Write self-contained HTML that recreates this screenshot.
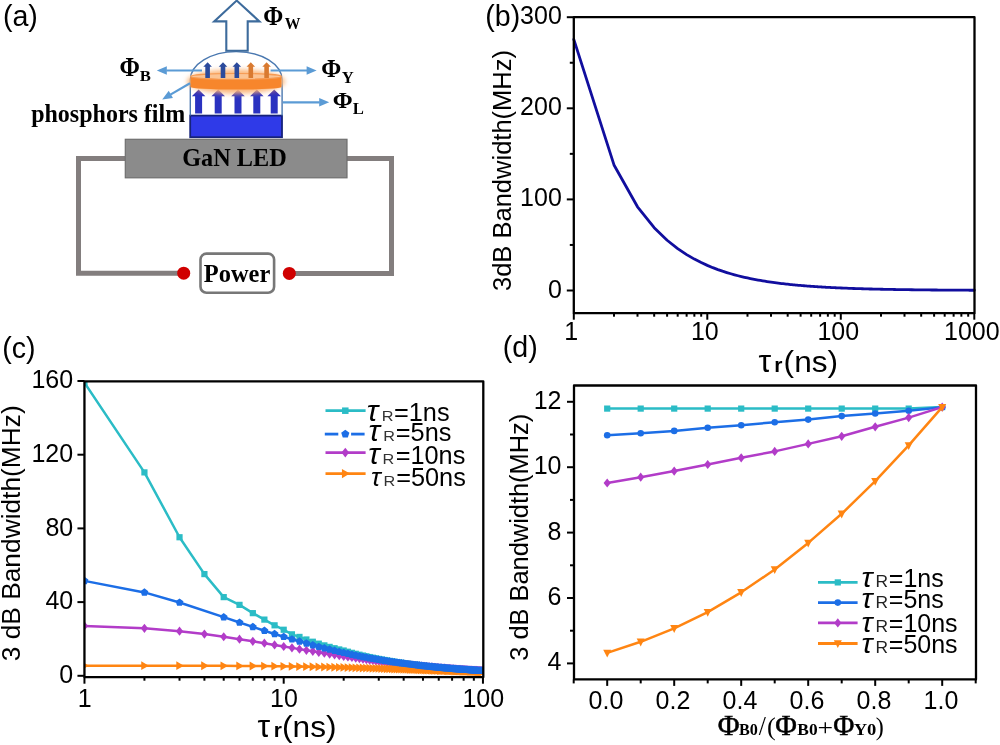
<!DOCTYPE html><html><head><meta charset="utf-8"><title>Figure</title><style>html,body{margin:0;padding:0;background:#fff;overflow:hidden}svg{display:block}</style></head><body>
<svg width="1000" height="745" viewBox="0 0 1000 745">
<rect width="1000" height="745" fill="#fff"/>
<text x="2.90" y="25.50" font-family="'Liberation Sans', Arial, sans-serif" font-size="28.6" font-weight="normal" text-anchor="start" fill="#000" >(a)</text>
<text x="485.30" y="25.90" font-family="'Liberation Sans', Arial, sans-serif" font-size="28.6" font-weight="normal" text-anchor="start" fill="#000" >(b)</text>
<text x="2.30" y="357.70" font-family="'Liberation Sans', Arial, sans-serif" font-size="28.6" font-weight="normal" text-anchor="start" fill="#000" >(c)</text>
<text x="502.80" y="356.60" font-family="'Liberation Sans', Arial, sans-serif" font-size="28.6" font-weight="normal" text-anchor="start" fill="#000" >(d)</text>
<polyline points="573.80,39.37 613.99,164.94 637.50,206.79 654.18,227.72 667.11,240.27 677.68,248.65 686.62,254.62 694.36,259.11 701.19,262.60 707.30,265.39 712.83,267.67 717.87,269.57 722.51,271.18 726.81,272.56 730.81,273.76 734.55,274.80 738.06,275.73 741.38,276.55 744.51,277.28 747.49,277.94 750.32,278.54 753.01,279.09 755.59,279.58 758.06,280.04 760.42,280.45 762.70,280.84 764.89,281.20 767.00,281.53 769.03,281.84 771.00,282.13 772.90,282.40 774.74,282.65 776.52,282.89 778.25,283.11 779.93,283.32 781.57,283.52 783.15,283.71 784.70,283.89 786.21,284.06 787.68,284.22 789.11,284.37 790.50,284.52 791.87,284.66 793.20,284.79 794.50,284.92 795.78,285.04 797.03,285.16 798.25,285.27 799.44,285.37 800.61,285.48 801.76,285.58 802.89,285.67 803.99,285.76 805.07,285.85 806.14,285.93 807.18,286.02 808.21,286.09 809.22,286.17 810.21,286.24 811.18,286.31 812.14,286.38 813.08,286.45 814.01,286.51 814.93,286.58 815.82,286.64 816.71,286.70 817.58,286.75 818.44,286.81 819.29,286.86 820.12,286.91 820.94,286.96 821.75,287.01 822.55,287.06 823.34,287.11 824.12,287.15 824.89,287.20 825.65,287.24 826.39,287.28 827.13,287.32 827.86,287.36 828.58,287.40 829.29,287.44 830.00,287.47 830.69,287.51 831.38,287.55 832.06,287.58 832.73,287.61 833.39,287.65 834.04,287.68 834.69,287.71 835.33,287.74 835.97,287.77 836.59,287.80 837.21,287.83 837.83,287.86 838.43,287.88 839.03,287.91 839.63,287.94 840.22,287.96 840.80,287.99 843.63,288.11 846.33,288.22 848.90,288.32 851.37,288.41 853.74,288.49 856.01,288.57 858.20,288.64 860.31,288.71 862.34,288.77 864.31,288.83 866.21,288.88 868.05,288.93 869.83,288.98 871.56,289.02 873.25,289.06 874.88,289.10 876.47,289.14 878.01,289.18 879.52,289.21 880.99,289.24 882.42,289.27 883.82,289.30 885.18,289.33 886.51,289.36 887.82,289.38 889.09,289.41 890.34,289.43 891.56,289.45 892.75,289.47 893.92,289.50 895.07,289.52 896.20,289.53 897.30,289.55 898.39,289.57 899.45,289.59 900.50,289.60 901.52,289.62 902.53,289.63 903.52,289.65 904.50,289.66 908.24,289.72 911.75,289.76 915.07,289.80 918.20,289.84 921.18,289.87 924.00,289.90 926.70,289.93 929.28,289.95 931.75,289.98 934.11,290.00 936.39,290.02 938.57,290.03 940.68,290.05 942.72,290.07 944.68,290.08 946.58,290.09 948.43,290.11 950.21,290.12 951.94,290.13 953.62,290.14 955.25,290.15 956.84,290.16 958.39,290.17 959.89,290.18 961.36,290.19 962.79,290.19 964.19,290.20 965.56,290.21 966.89,290.21 968.19,290.22 969.47,290.23 970.71,290.23 971.93,290.24 973.13,290.24 974.30,290.25" fill="none" stroke="#110e9e" stroke-width="2.8" stroke-linejoin="round" stroke-linecap="round"/>
<rect x="573.8" y="17.2" width="400.70000000000005" height="296.0" fill="none" stroke="#000" stroke-width="2.3" stroke-linejoin="round"/>
<line x1="566.80" y1="290.50" x2="573.80" y2="290.50" stroke="#000" stroke-width="2" />
<text x="561.80" y="297.50" font-family="'Liberation Sans', Arial, sans-serif" font-size="25" font-weight="normal" text-anchor="end" fill="#000" >0</text>
<line x1="566.80" y1="199.40" x2="573.80" y2="199.40" stroke="#000" stroke-width="2" />
<text x="561.80" y="206.40" font-family="'Liberation Sans', Arial, sans-serif" font-size="25" font-weight="normal" text-anchor="end" fill="#000" >100</text>
<line x1="566.80" y1="108.30" x2="573.80" y2="108.30" stroke="#000" stroke-width="2" />
<text x="561.80" y="115.30" font-family="'Liberation Sans', Arial, sans-serif" font-size="25" font-weight="normal" text-anchor="end" fill="#000" >200</text>
<line x1="566.80" y1="17.20" x2="573.80" y2="17.20" stroke="#000" stroke-width="2" />
<text x="561.80" y="24.20" font-family="'Liberation Sans', Arial, sans-serif" font-size="25" font-weight="normal" text-anchor="end" fill="#000" >300</text>
<line x1="569.80" y1="244.95" x2="573.80" y2="244.95" stroke="#000" stroke-width="2" />
<line x1="569.80" y1="153.85" x2="573.80" y2="153.85" stroke="#000" stroke-width="2" />
<line x1="569.80" y1="62.75" x2="573.80" y2="62.75" stroke="#000" stroke-width="2" />
<line x1="613.99" y1="313.20" x2="613.99" y2="316.70" stroke="#000" stroke-width="2" />
<line x1="637.50" y1="313.20" x2="637.50" y2="316.70" stroke="#000" stroke-width="2" />
<line x1="654.18" y1="313.20" x2="654.18" y2="316.70" stroke="#000" stroke-width="2" />
<line x1="667.11" y1="313.20" x2="667.11" y2="316.70" stroke="#000" stroke-width="2" />
<line x1="677.68" y1="313.20" x2="677.68" y2="316.70" stroke="#000" stroke-width="2" />
<line x1="686.62" y1="313.20" x2="686.62" y2="316.70" stroke="#000" stroke-width="2" />
<line x1="694.36" y1="313.20" x2="694.36" y2="316.70" stroke="#000" stroke-width="2" />
<line x1="701.19" y1="313.20" x2="701.19" y2="316.70" stroke="#000" stroke-width="2" />
<line x1="747.49" y1="313.20" x2="747.49" y2="316.70" stroke="#000" stroke-width="2" />
<line x1="771.00" y1="313.20" x2="771.00" y2="316.70" stroke="#000" stroke-width="2" />
<line x1="787.68" y1="313.20" x2="787.68" y2="316.70" stroke="#000" stroke-width="2" />
<line x1="800.61" y1="313.20" x2="800.61" y2="316.70" stroke="#000" stroke-width="2" />
<line x1="811.18" y1="313.20" x2="811.18" y2="316.70" stroke="#000" stroke-width="2" />
<line x1="820.12" y1="313.20" x2="820.12" y2="316.70" stroke="#000" stroke-width="2" />
<line x1="827.86" y1="313.20" x2="827.86" y2="316.70" stroke="#000" stroke-width="2" />
<line x1="834.69" y1="313.20" x2="834.69" y2="316.70" stroke="#000" stroke-width="2" />
<line x1="880.99" y1="313.20" x2="880.99" y2="316.70" stroke="#000" stroke-width="2" />
<line x1="904.50" y1="313.20" x2="904.50" y2="316.70" stroke="#000" stroke-width="2" />
<line x1="921.18" y1="313.20" x2="921.18" y2="316.70" stroke="#000" stroke-width="2" />
<line x1="934.11" y1="313.20" x2="934.11" y2="316.70" stroke="#000" stroke-width="2" />
<line x1="944.68" y1="313.20" x2="944.68" y2="316.70" stroke="#000" stroke-width="2" />
<line x1="953.62" y1="313.20" x2="953.62" y2="316.70" stroke="#000" stroke-width="2" />
<line x1="961.36" y1="313.20" x2="961.36" y2="316.70" stroke="#000" stroke-width="2" />
<line x1="968.19" y1="313.20" x2="968.19" y2="316.70" stroke="#000" stroke-width="2" />
<line x1="573.80" y1="313.20" x2="573.80" y2="319.70" stroke="#000" stroke-width="2" />
<text x="571.30" y="340.40" font-family="'Liberation Sans', Arial, sans-serif" font-size="25" font-weight="normal" text-anchor="middle" fill="#000" >1</text>
<line x1="707.30" y1="313.20" x2="707.30" y2="319.70" stroke="#000" stroke-width="2" />
<text x="704.80" y="340.40" font-family="'Liberation Sans', Arial, sans-serif" font-size="25" font-weight="normal" text-anchor="middle" fill="#000" >10</text>
<line x1="840.80" y1="313.20" x2="840.80" y2="319.70" stroke="#000" stroke-width="2" />
<text x="838.30" y="340.40" font-family="'Liberation Sans', Arial, sans-serif" font-size="25" font-weight="normal" text-anchor="middle" fill="#000" >100</text>
<line x1="974.30" y1="313.20" x2="974.30" y2="319.70" stroke="#000" stroke-width="2" />
<text x="971.80" y="340.40" font-family="'Liberation Sans', Arial, sans-serif" font-size="25" font-weight="normal" text-anchor="middle" fill="#000" >1000</text>
<text x="0" y="0" transform="translate(511.3,291) rotate(-90)" font-family="'Liberation Sans', Arial, sans-serif" font-size="25.5" textLength="241" lengthAdjust="spacingAndGlyphs">3dB Bandwidth(MHz)</text>
<text y="371.6" font-family="'Liberation Sans', Arial, sans-serif" font-size="29.5"><tspan x="758.6" font-size="32">τ</tspan><tspan x="774.3" font-weight="bold" font-size="21">r</tspan></text>
<text x="783.6" y="371.6" font-family="'Liberation Sans', Arial, sans-serif" font-size="29.5" textLength="54.5" lengthAdjust="spacingAndGlyphs">(ns)</text>
<clipPath id="clc"><rect x="84.45" y="381.3" width="398.85" height="295.90000000000003"/></clipPath>
<g clip-path="url(#clc)">
<polyline points="84.45,382.66 144.43,472.39 179.52,537.24 204.41,574.09 223.72,597.13 239.50,604.86 252.84,613.15 264.39,619.60 274.58,625.32 283.70,629.74 291.95,634.34 299.48,636.92 306.40,639.49 312.82,641.73 318.79,643.67 324.37,645.38 329.62,646.89 334.56,648.23 339.24,649.44 343.68,650.53 347.90,651.72 351.93,652.81 355.77,653.80 359.46,654.71 362.99,655.55 366.38,656.32 369.65,657.04 372.80,657.71 375.83,658.33 378.77,658.91 381.60,659.45 384.35,659.96 387.01,660.44 389.60,660.89 392.11,661.31 394.54,661.71 396.91,662.09 399.22,662.45 401.47,662.79 403.66,663.12 405.80,663.43 407.88,663.72 409.92,664.00 411.91,664.27 413.85,664.52 415.75,664.77 417.62,665.00 419.44,665.23 421.22,665.44 422.97,665.65 424.68,665.85 426.36,666.04 428.01,666.22 429.63,666.40 431.22,666.57 432.78,666.74 434.31,666.89 435.81,667.05 437.29,667.20 438.75,667.34 440.18,667.48 441.58,667.61 442.97,667.74 444.33,667.87 445.67,667.99 446.99,668.11 448.30,668.22 449.58,668.33 450.84,668.44 452.09,668.55 453.31,668.65 454.52,668.75 455.72,668.84 456.89,668.94 458.06,669.03 459.20,669.12 460.33,669.21 461.45,669.29 462.55,669.37 463.64,669.45 464.72,669.53 465.78,669.61 466.83,669.68 467.86,669.76 468.89,669.83 469.90,669.90 470.90,669.96 471.89,670.03 472.87,670.09 473.83,670.16 474.79,670.22 475.73,670.28 476.67,670.34 477.60,670.40 478.51,670.45 479.42,670.51 480.31,670.56 481.20,670.62 482.08,670.67 482.95,670.72" fill="none" stroke="#2bbcc6" stroke-width="2.5" stroke-linejoin="round" stroke-linecap="round"/>
<rect x="81.35" y="379.56" width="6.20" height="6.20" fill="#2bbcc6"/>
<rect x="141.33" y="469.29" width="6.20" height="6.20" fill="#2bbcc6"/>
<rect x="176.42" y="534.14" width="6.20" height="6.20" fill="#2bbcc6"/>
<rect x="201.31" y="570.99" width="6.20" height="6.20" fill="#2bbcc6"/>
<rect x="220.62" y="594.03" width="6.20" height="6.20" fill="#2bbcc6"/>
<rect x="236.40" y="601.76" width="6.20" height="6.20" fill="#2bbcc6"/>
<rect x="249.74" y="610.05" width="6.20" height="6.20" fill="#2bbcc6"/>
<rect x="261.29" y="616.50" width="6.20" height="6.20" fill="#2bbcc6"/>
<rect x="271.48" y="622.22" width="6.20" height="6.20" fill="#2bbcc6"/>
<rect x="280.60" y="626.64" width="6.20" height="6.20" fill="#2bbcc6"/>
<rect x="288.85" y="631.24" width="6.20" height="6.20" fill="#2bbcc6"/>
<rect x="296.38" y="633.82" width="6.20" height="6.20" fill="#2bbcc6"/>
<rect x="303.30" y="636.39" width="6.20" height="6.20" fill="#2bbcc6"/>
<rect x="309.72" y="638.63" width="6.20" height="6.20" fill="#2bbcc6"/>
<rect x="315.69" y="640.57" width="6.20" height="6.20" fill="#2bbcc6"/>
<rect x="321.27" y="642.28" width="6.20" height="6.20" fill="#2bbcc6"/>
<rect x="326.52" y="643.79" width="6.20" height="6.20" fill="#2bbcc6"/>
<rect x="331.46" y="645.13" width="6.20" height="6.20" fill="#2bbcc6"/>
<rect x="336.14" y="646.34" width="6.20" height="6.20" fill="#2bbcc6"/>
<rect x="340.58" y="647.43" width="6.20" height="6.20" fill="#2bbcc6"/>
<rect x="344.80" y="648.62" width="6.20" height="6.20" fill="#2bbcc6"/>
<rect x="348.83" y="649.71" width="6.20" height="6.20" fill="#2bbcc6"/>
<rect x="352.67" y="650.70" width="6.20" height="6.20" fill="#2bbcc6"/>
<rect x="356.36" y="651.61" width="6.20" height="6.20" fill="#2bbcc6"/>
<rect x="359.89" y="652.45" width="6.20" height="6.20" fill="#2bbcc6"/>
<rect x="363.28" y="653.22" width="6.20" height="6.20" fill="#2bbcc6"/>
<rect x="366.55" y="653.94" width="6.20" height="6.20" fill="#2bbcc6"/>
<rect x="369.70" y="654.61" width="6.20" height="6.20" fill="#2bbcc6"/>
<rect x="372.73" y="655.23" width="6.20" height="6.20" fill="#2bbcc6"/>
<rect x="375.67" y="655.81" width="6.20" height="6.20" fill="#2bbcc6"/>
<rect x="378.50" y="656.35" width="6.20" height="6.20" fill="#2bbcc6"/>
<rect x="381.25" y="656.86" width="6.20" height="6.20" fill="#2bbcc6"/>
<rect x="383.91" y="657.34" width="6.20" height="6.20" fill="#2bbcc6"/>
<rect x="386.50" y="657.79" width="6.20" height="6.20" fill="#2bbcc6"/>
<rect x="389.01" y="658.21" width="6.20" height="6.20" fill="#2bbcc6"/>
<rect x="391.44" y="658.61" width="6.20" height="6.20" fill="#2bbcc6"/>
<rect x="393.81" y="658.99" width="6.20" height="6.20" fill="#2bbcc6"/>
<rect x="396.12" y="659.35" width="6.20" height="6.20" fill="#2bbcc6"/>
<rect x="398.37" y="659.69" width="6.20" height="6.20" fill="#2bbcc6"/>
<rect x="400.56" y="660.02" width="6.20" height="6.20" fill="#2bbcc6"/>
<rect x="402.70" y="660.33" width="6.20" height="6.20" fill="#2bbcc6"/>
<rect x="404.78" y="660.62" width="6.20" height="6.20" fill="#2bbcc6"/>
<rect x="406.82" y="660.90" width="6.20" height="6.20" fill="#2bbcc6"/>
<rect x="408.81" y="661.17" width="6.20" height="6.20" fill="#2bbcc6"/>
<rect x="410.75" y="661.42" width="6.20" height="6.20" fill="#2bbcc6"/>
<rect x="412.65" y="661.67" width="6.20" height="6.20" fill="#2bbcc6"/>
<rect x="414.52" y="661.90" width="6.20" height="6.20" fill="#2bbcc6"/>
<rect x="416.34" y="662.13" width="6.20" height="6.20" fill="#2bbcc6"/>
<rect x="418.12" y="662.34" width="6.20" height="6.20" fill="#2bbcc6"/>
<rect x="419.87" y="662.55" width="6.20" height="6.20" fill="#2bbcc6"/>
<rect x="421.58" y="662.75" width="6.20" height="6.20" fill="#2bbcc6"/>
<rect x="423.26" y="662.94" width="6.20" height="6.20" fill="#2bbcc6"/>
<rect x="424.91" y="663.12" width="6.20" height="6.20" fill="#2bbcc6"/>
<rect x="426.53" y="663.30" width="6.20" height="6.20" fill="#2bbcc6"/>
<rect x="428.12" y="663.47" width="6.20" height="6.20" fill="#2bbcc6"/>
<rect x="429.68" y="663.64" width="6.20" height="6.20" fill="#2bbcc6"/>
<rect x="431.21" y="663.79" width="6.20" height="6.20" fill="#2bbcc6"/>
<rect x="432.71" y="663.95" width="6.20" height="6.20" fill="#2bbcc6"/>
<rect x="434.19" y="664.10" width="6.20" height="6.20" fill="#2bbcc6"/>
<rect x="435.65" y="664.24" width="6.20" height="6.20" fill="#2bbcc6"/>
<rect x="437.08" y="664.38" width="6.20" height="6.20" fill="#2bbcc6"/>
<rect x="438.48" y="664.51" width="6.20" height="6.20" fill="#2bbcc6"/>
<rect x="439.87" y="664.64" width="6.20" height="6.20" fill="#2bbcc6"/>
<rect x="441.23" y="664.77" width="6.20" height="6.20" fill="#2bbcc6"/>
<rect x="442.57" y="664.89" width="6.20" height="6.20" fill="#2bbcc6"/>
<rect x="443.89" y="665.01" width="6.20" height="6.20" fill="#2bbcc6"/>
<rect x="445.20" y="665.12" width="6.20" height="6.20" fill="#2bbcc6"/>
<rect x="446.48" y="665.23" width="6.20" height="6.20" fill="#2bbcc6"/>
<rect x="447.74" y="665.34" width="6.20" height="6.20" fill="#2bbcc6"/>
<rect x="448.99" y="665.45" width="6.20" height="6.20" fill="#2bbcc6"/>
<rect x="450.21" y="665.55" width="6.20" height="6.20" fill="#2bbcc6"/>
<rect x="451.42" y="665.65" width="6.20" height="6.20" fill="#2bbcc6"/>
<rect x="452.62" y="665.74" width="6.20" height="6.20" fill="#2bbcc6"/>
<rect x="453.79" y="665.84" width="6.20" height="6.20" fill="#2bbcc6"/>
<rect x="454.96" y="665.93" width="6.20" height="6.20" fill="#2bbcc6"/>
<rect x="456.10" y="666.02" width="6.20" height="6.20" fill="#2bbcc6"/>
<rect x="457.23" y="666.11" width="6.20" height="6.20" fill="#2bbcc6"/>
<rect x="458.35" y="666.19" width="6.20" height="6.20" fill="#2bbcc6"/>
<rect x="459.45" y="666.27" width="6.20" height="6.20" fill="#2bbcc6"/>
<rect x="460.54" y="666.35" width="6.20" height="6.20" fill="#2bbcc6"/>
<rect x="461.62" y="666.43" width="6.20" height="6.20" fill="#2bbcc6"/>
<rect x="462.68" y="666.51" width="6.20" height="6.20" fill="#2bbcc6"/>
<rect x="463.73" y="666.58" width="6.20" height="6.20" fill="#2bbcc6"/>
<rect x="464.76" y="666.66" width="6.20" height="6.20" fill="#2bbcc6"/>
<rect x="465.79" y="666.73" width="6.20" height="6.20" fill="#2bbcc6"/>
<rect x="466.80" y="666.80" width="6.20" height="6.20" fill="#2bbcc6"/>
<rect x="467.80" y="666.86" width="6.20" height="6.20" fill="#2bbcc6"/>
<rect x="468.79" y="666.93" width="6.20" height="6.20" fill="#2bbcc6"/>
<rect x="469.77" y="666.99" width="6.20" height="6.20" fill="#2bbcc6"/>
<rect x="470.73" y="667.06" width="6.20" height="6.20" fill="#2bbcc6"/>
<rect x="471.69" y="667.12" width="6.20" height="6.20" fill="#2bbcc6"/>
<rect x="472.63" y="667.18" width="6.20" height="6.20" fill="#2bbcc6"/>
<rect x="473.57" y="667.24" width="6.20" height="6.20" fill="#2bbcc6"/>
<rect x="474.50" y="667.30" width="6.20" height="6.20" fill="#2bbcc6"/>
<rect x="475.41" y="667.35" width="6.20" height="6.20" fill="#2bbcc6"/>
<rect x="476.32" y="667.41" width="6.20" height="6.20" fill="#2bbcc6"/>
<rect x="477.21" y="667.46" width="6.20" height="6.20" fill="#2bbcc6"/>
<rect x="478.10" y="667.52" width="6.20" height="6.20" fill="#2bbcc6"/>
<rect x="478.98" y="667.57" width="6.20" height="6.20" fill="#2bbcc6"/>
<rect x="479.85" y="667.62" width="6.20" height="6.20" fill="#2bbcc6"/>
<polyline points="84.45,625.97 144.43,628.33 179.52,631.22 204.41,634.10 223.72,636.76 239.50,639.16 252.84,641.31 264.39,643.22 274.58,644.93 283.70,646.48 291.95,647.87 299.48,649.14 306.40,650.30 312.82,651.37 318.79,652.35 324.37,653.25 329.62,654.09 334.56,654.87 339.24,655.60 343.68,656.28 347.90,656.92 351.93,657.52 355.77,658.09 359.46,658.62 362.99,659.12 366.38,659.60 369.65,660.05 372.80,660.47 375.83,660.88 378.77,661.27 381.60,661.63 384.35,661.98 387.01,662.32 389.60,662.64 392.11,662.94 394.54,663.23 396.91,663.51 399.22,663.78 401.47,664.04 403.66,664.29 405.80,664.53 407.88,664.75 409.92,664.97 411.91,665.19 413.85,665.39 415.75,665.59 417.62,665.78 419.44,665.96 421.22,666.14 422.97,666.31 424.68,666.47 426.36,666.63 428.01,666.79 429.63,666.93 431.22,667.08 432.78,667.22 434.31,667.36 435.81,667.49 437.29,667.62 438.75,667.74 440.18,667.86 441.58,667.98 442.97,668.09 444.33,668.20 445.67,668.31 446.99,668.42 448.30,668.52 449.58,668.62 450.84,668.71 452.09,668.81 453.31,668.90 454.52,668.99 455.72,669.08 456.89,669.16 458.06,669.25 459.20,669.33 460.33,669.41 461.45,669.48 462.55,669.56 463.64,669.63 464.72,669.71 465.78,669.78 466.83,669.84 467.86,669.91 468.89,669.98 469.90,670.04 470.90,670.11 471.89,670.17 472.87,670.23 473.83,670.29 474.79,670.34 475.73,670.40 476.67,670.46 477.60,670.51 478.51,670.56 479.42,670.62 480.31,670.67 481.20,670.72 482.08,670.77 482.95,670.82" fill="none" stroke="#b23cc8" stroke-width="2.5" stroke-linejoin="round" stroke-linecap="round"/>
<polygon points="84.45,621.37 88.05,625.97 84.45,630.57 80.85,625.97" fill="#b23cc8"/>
<polygon points="144.43,623.73 148.03,628.33 144.43,632.93 140.83,628.33" fill="#b23cc8"/>
<polygon points="179.52,626.62 183.12,631.22 179.52,635.82 175.92,631.22" fill="#b23cc8"/>
<polygon points="204.41,629.50 208.01,634.10 204.41,638.70 200.81,634.10" fill="#b23cc8"/>
<polygon points="223.72,632.16 227.32,636.76 223.72,641.36 220.12,636.76" fill="#b23cc8"/>
<polygon points="239.50,634.56 243.10,639.16 239.50,643.76 235.90,639.16" fill="#b23cc8"/>
<polygon points="252.84,636.71 256.44,641.31 252.84,645.91 249.24,641.31" fill="#b23cc8"/>
<polygon points="264.39,638.62 267.99,643.22 264.39,647.82 260.79,643.22" fill="#b23cc8"/>
<polygon points="274.58,640.33 278.18,644.93 274.58,649.53 270.98,644.93" fill="#b23cc8"/>
<polygon points="283.70,641.88 287.30,646.48 283.70,651.08 280.10,646.48" fill="#b23cc8"/>
<polygon points="291.95,643.27 295.55,647.87 291.95,652.47 288.35,647.87" fill="#b23cc8"/>
<polygon points="299.48,644.54 303.08,649.14 299.48,653.74 295.88,649.14" fill="#b23cc8"/>
<polygon points="306.40,645.70 310.00,650.30 306.40,654.90 302.80,650.30" fill="#b23cc8"/>
<polygon points="312.82,646.77 316.42,651.37 312.82,655.97 309.22,651.37" fill="#b23cc8"/>
<polygon points="318.79,647.75 322.39,652.35 318.79,656.95 315.19,652.35" fill="#b23cc8"/>
<polygon points="324.37,648.65 327.97,653.25 324.37,657.85 320.77,653.25" fill="#b23cc8"/>
<polygon points="329.62,649.49 333.22,654.09 329.62,658.69 326.02,654.09" fill="#b23cc8"/>
<polygon points="334.56,650.27 338.16,654.87 334.56,659.47 330.96,654.87" fill="#b23cc8"/>
<polygon points="339.24,651.00 342.84,655.60 339.24,660.20 335.64,655.60" fill="#b23cc8"/>
<polygon points="343.68,651.68 347.28,656.28 343.68,660.88 340.08,656.28" fill="#b23cc8"/>
<polygon points="347.90,652.32 351.50,656.92 347.90,661.52 344.30,656.92" fill="#b23cc8"/>
<polygon points="351.93,652.92 355.53,657.52 351.93,662.12 348.33,657.52" fill="#b23cc8"/>
<polygon points="355.77,653.49 359.37,658.09 355.77,662.69 352.17,658.09" fill="#b23cc8"/>
<polygon points="359.46,654.02 363.06,658.62 359.46,663.22 355.86,658.62" fill="#b23cc8"/>
<polygon points="362.99,654.52 366.59,659.12 362.99,663.72 359.39,659.12" fill="#b23cc8"/>
<polygon points="366.38,655.00 369.98,659.60 366.38,664.20 362.78,659.60" fill="#b23cc8"/>
<polygon points="369.65,655.45 373.25,660.05 369.65,664.65 366.05,660.05" fill="#b23cc8"/>
<polygon points="372.80,655.87 376.40,660.47 372.80,665.07 369.20,660.47" fill="#b23cc8"/>
<polygon points="375.83,656.28 379.43,660.88 375.83,665.48 372.23,660.88" fill="#b23cc8"/>
<polygon points="378.77,656.67 382.37,661.27 378.77,665.87 375.17,661.27" fill="#b23cc8"/>
<polygon points="381.60,657.03 385.20,661.63 381.60,666.23 378.00,661.63" fill="#b23cc8"/>
<polygon points="384.35,657.38 387.95,661.98 384.35,666.58 380.75,661.98" fill="#b23cc8"/>
<polygon points="387.01,657.72 390.61,662.32 387.01,666.92 383.41,662.32" fill="#b23cc8"/>
<polygon points="389.60,658.04 393.20,662.64 389.60,667.24 386.00,662.64" fill="#b23cc8"/>
<polygon points="392.11,658.34 395.71,662.94 392.11,667.54 388.51,662.94" fill="#b23cc8"/>
<polygon points="394.54,658.63 398.14,663.23 394.54,667.83 390.94,663.23" fill="#b23cc8"/>
<polygon points="396.91,658.91 400.51,663.51 396.91,668.11 393.31,663.51" fill="#b23cc8"/>
<polygon points="399.22,659.18 402.82,663.78 399.22,668.38 395.62,663.78" fill="#b23cc8"/>
<polygon points="401.47,659.44 405.07,664.04 401.47,668.64 397.87,664.04" fill="#b23cc8"/>
<polygon points="403.66,659.69 407.26,664.29 403.66,668.89 400.06,664.29" fill="#b23cc8"/>
<polygon points="405.80,659.93 409.40,664.53 405.80,669.13 402.20,664.53" fill="#b23cc8"/>
<polygon points="407.88,660.15 411.48,664.75 407.88,669.35 404.28,664.75" fill="#b23cc8"/>
<polygon points="409.92,660.37 413.52,664.97 409.92,669.57 406.32,664.97" fill="#b23cc8"/>
<polygon points="411.91,660.59 415.51,665.19 411.91,669.79 408.31,665.19" fill="#b23cc8"/>
<polygon points="413.85,660.79 417.45,665.39 413.85,669.99 410.25,665.39" fill="#b23cc8"/>
<polygon points="415.75,660.99 419.35,665.59 415.75,670.19 412.15,665.59" fill="#b23cc8"/>
<polygon points="417.62,661.18 421.22,665.78 417.62,670.38 414.02,665.78" fill="#b23cc8"/>
<polygon points="419.44,661.36 423.04,665.96 419.44,670.56 415.84,665.96" fill="#b23cc8"/>
<polygon points="421.22,661.54 424.82,666.14 421.22,670.74 417.62,666.14" fill="#b23cc8"/>
<polygon points="422.97,661.71 426.57,666.31 422.97,670.91 419.37,666.31" fill="#b23cc8"/>
<polygon points="424.68,661.87 428.28,666.47 424.68,671.07 421.08,666.47" fill="#b23cc8"/>
<polygon points="426.36,662.03 429.96,666.63 426.36,671.23 422.76,666.63" fill="#b23cc8"/>
<polygon points="428.01,662.19 431.61,666.79 428.01,671.39 424.41,666.79" fill="#b23cc8"/>
<polygon points="429.63,662.33 433.23,666.93 429.63,671.53 426.03,666.93" fill="#b23cc8"/>
<polygon points="431.22,662.48 434.82,667.08 431.22,671.68 427.62,667.08" fill="#b23cc8"/>
<polygon points="432.78,662.62 436.38,667.22 432.78,671.82 429.18,667.22" fill="#b23cc8"/>
<polygon points="434.31,662.76 437.91,667.36 434.31,671.96 430.71,667.36" fill="#b23cc8"/>
<polygon points="435.81,662.89 439.41,667.49 435.81,672.09 432.21,667.49" fill="#b23cc8"/>
<polygon points="437.29,663.02 440.89,667.62 437.29,672.22 433.69,667.62" fill="#b23cc8"/>
<polygon points="438.75,663.14 442.35,667.74 438.75,672.34 435.15,667.74" fill="#b23cc8"/>
<polygon points="440.18,663.26 443.78,667.86 440.18,672.46 436.58,667.86" fill="#b23cc8"/>
<polygon points="441.58,663.38 445.18,667.98 441.58,672.58 437.98,667.98" fill="#b23cc8"/>
<polygon points="442.97,663.49 446.57,668.09 442.97,672.69 439.37,668.09" fill="#b23cc8"/>
<polygon points="444.33,663.60 447.93,668.20 444.33,672.80 440.73,668.20" fill="#b23cc8"/>
<polygon points="445.67,663.71 449.27,668.31 445.67,672.91 442.07,668.31" fill="#b23cc8"/>
<polygon points="446.99,663.82 450.59,668.42 446.99,673.02 443.39,668.42" fill="#b23cc8"/>
<polygon points="448.30,663.92 451.90,668.52 448.30,673.12 444.70,668.52" fill="#b23cc8"/>
<polygon points="449.58,664.02 453.18,668.62 449.58,673.22 445.98,668.62" fill="#b23cc8"/>
<polygon points="450.84,664.11 454.44,668.71 450.84,673.31 447.24,668.71" fill="#b23cc8"/>
<polygon points="452.09,664.21 455.69,668.81 452.09,673.41 448.49,668.81" fill="#b23cc8"/>
<polygon points="453.31,664.30 456.91,668.90 453.31,673.50 449.71,668.90" fill="#b23cc8"/>
<polygon points="454.52,664.39 458.12,668.99 454.52,673.59 450.92,668.99" fill="#b23cc8"/>
<polygon points="455.72,664.48 459.32,669.08 455.72,673.68 452.12,669.08" fill="#b23cc8"/>
<polygon points="456.89,664.56 460.49,669.16 456.89,673.76 453.29,669.16" fill="#b23cc8"/>
<polygon points="458.06,664.65 461.66,669.25 458.06,673.85 454.46,669.25" fill="#b23cc8"/>
<polygon points="459.20,664.73 462.80,669.33 459.20,673.93 455.60,669.33" fill="#b23cc8"/>
<polygon points="460.33,664.81 463.93,669.41 460.33,674.01 456.73,669.41" fill="#b23cc8"/>
<polygon points="461.45,664.88 465.05,669.48 461.45,674.08 457.85,669.48" fill="#b23cc8"/>
<polygon points="462.55,664.96 466.15,669.56 462.55,674.16 458.95,669.56" fill="#b23cc8"/>
<polygon points="463.64,665.03 467.24,669.63 463.64,674.23 460.04,669.63" fill="#b23cc8"/>
<polygon points="464.72,665.11 468.32,669.71 464.72,674.31 461.12,669.71" fill="#b23cc8"/>
<polygon points="465.78,665.18 469.38,669.78 465.78,674.38 462.18,669.78" fill="#b23cc8"/>
<polygon points="466.83,665.24 470.43,669.84 466.83,674.44 463.23,669.84" fill="#b23cc8"/>
<polygon points="467.86,665.31 471.46,669.91 467.86,674.51 464.26,669.91" fill="#b23cc8"/>
<polygon points="468.89,665.38 472.49,669.98 468.89,674.58 465.29,669.98" fill="#b23cc8"/>
<polygon points="469.90,665.44 473.50,670.04 469.90,674.64 466.30,670.04" fill="#b23cc8"/>
<polygon points="470.90,665.51 474.50,670.11 470.90,674.71 467.30,670.11" fill="#b23cc8"/>
<polygon points="471.89,665.57 475.49,670.17 471.89,674.77 468.29,670.17" fill="#b23cc8"/>
<polygon points="472.87,665.63 476.47,670.23 472.87,674.83 469.27,670.23" fill="#b23cc8"/>
<polygon points="473.83,665.69 477.43,670.29 473.83,674.89 470.23,670.29" fill="#b23cc8"/>
<polygon points="474.79,665.74 478.39,670.34 474.79,674.94 471.19,670.34" fill="#b23cc8"/>
<polygon points="475.73,665.80 479.33,670.40 475.73,675.00 472.13,670.40" fill="#b23cc8"/>
<polygon points="476.67,665.86 480.27,670.46 476.67,675.06 473.07,670.46" fill="#b23cc8"/>
<polygon points="477.60,665.91 481.20,670.51 477.60,675.11 474.00,670.51" fill="#b23cc8"/>
<polygon points="478.51,665.96 482.11,670.56 478.51,675.16 474.91,670.56" fill="#b23cc8"/>
<polygon points="479.42,666.02 483.02,670.62 479.42,675.22 475.82,670.62" fill="#b23cc8"/>
<polygon points="480.31,666.07 483.91,670.67 480.31,675.27 476.71,670.67" fill="#b23cc8"/>
<polygon points="481.20,666.12 484.80,670.72 481.20,675.32 477.60,670.72" fill="#b23cc8"/>
<polygon points="482.08,666.17 485.68,670.77 482.08,675.37 478.48,670.77" fill="#b23cc8"/>
<polygon points="482.95,666.22 486.55,670.82 482.95,675.42 479.35,670.82" fill="#b23cc8"/>
<polyline points="84.45,665.65 144.43,665.67 179.52,665.71 204.41,665.77 223.72,665.83 239.50,665.91 252.84,666.00 264.39,666.10 274.58,666.20 283.70,666.31 291.95,666.42 299.48,666.53 306.40,666.65 312.82,666.77 318.79,666.88 324.37,667.00 329.62,667.12 334.56,667.23 339.24,667.35 343.68,667.46 347.90,667.57 351.93,667.68 355.77,667.79 359.46,667.89 362.99,667.99 366.38,668.09 369.65,668.19 372.80,668.29 375.83,668.38 378.77,668.47 381.60,668.56 384.35,668.65 387.01,668.74 389.60,668.82 392.11,668.90 394.54,668.98 396.91,669.06 399.22,669.14 401.47,669.21 403.66,669.28 405.80,669.36 407.88,669.43 409.92,669.49 411.91,669.56 413.85,669.63 415.75,669.69 417.62,669.75 419.44,669.82 421.22,669.88 422.97,669.94 424.68,669.99 426.36,670.05 428.01,670.11 429.63,670.16 431.22,670.21 432.78,670.27 434.31,670.32 435.81,670.37 437.29,670.42 438.75,670.47 440.18,670.52 441.58,670.56 442.97,670.61 444.33,670.66 445.67,670.70 446.99,670.74 448.30,670.79 449.58,670.83 450.84,670.87 452.09,670.91 453.31,670.95 454.52,670.99 455.72,671.03 456.89,671.07 458.06,671.11 459.20,671.15 460.33,671.18 461.45,671.22 462.55,671.26 463.64,671.29 464.72,671.32 465.78,671.36 466.83,671.39 467.86,671.43 468.89,671.46 469.90,671.49 470.90,671.52 471.89,671.55 472.87,671.58 473.83,671.61 474.79,671.64 475.73,671.67 476.67,671.70 477.60,671.73 478.51,671.76 479.42,671.79 480.31,671.82 481.20,671.84 482.08,671.87 482.95,671.90" fill="none" stroke="#ff8512" stroke-width="2.5" stroke-linejoin="round" stroke-linecap="round"/>
<polygon points="88.85,665.65 81.25,661.25 81.25,670.05" fill="#ff8512"/>
<polygon points="148.83,665.67 141.23,661.27 141.23,670.07" fill="#ff8512"/>
<polygon points="183.92,665.71 176.32,661.31 176.32,670.11" fill="#ff8512"/>
<polygon points="208.81,665.77 201.21,661.37 201.21,670.17" fill="#ff8512"/>
<polygon points="228.12,665.83 220.52,661.43 220.52,670.23" fill="#ff8512"/>
<polygon points="243.90,665.91 236.30,661.51 236.30,670.31" fill="#ff8512"/>
<polygon points="257.24,666.00 249.64,661.60 249.64,670.40" fill="#ff8512"/>
<polygon points="268.79,666.10 261.19,661.70 261.19,670.50" fill="#ff8512"/>
<polygon points="278.98,666.20 271.38,661.80 271.38,670.60" fill="#ff8512"/>
<polygon points="288.10,666.31 280.50,661.91 280.50,670.71" fill="#ff8512"/>
<polygon points="296.35,666.42 288.75,662.02 288.75,670.82" fill="#ff8512"/>
<polygon points="303.88,666.53 296.28,662.13 296.28,670.93" fill="#ff8512"/>
<polygon points="310.80,666.65 303.20,662.25 303.20,671.05" fill="#ff8512"/>
<polygon points="317.22,666.77 309.62,662.37 309.62,671.17" fill="#ff8512"/>
<polygon points="323.19,666.88 315.59,662.48 315.59,671.28" fill="#ff8512"/>
<polygon points="328.77,667.00 321.17,662.60 321.17,671.40" fill="#ff8512"/>
<polygon points="334.02,667.12 326.42,662.72 326.42,671.52" fill="#ff8512"/>
<polygon points="338.96,667.23 331.36,662.83 331.36,671.63" fill="#ff8512"/>
<polygon points="343.64,667.35 336.04,662.95 336.04,671.75" fill="#ff8512"/>
<polygon points="348.08,667.46 340.48,663.06 340.48,671.86" fill="#ff8512"/>
<polygon points="352.30,667.57 344.70,663.17 344.70,671.97" fill="#ff8512"/>
<polygon points="356.33,667.68 348.73,663.28 348.73,672.08" fill="#ff8512"/>
<polygon points="360.17,667.79 352.57,663.39 352.57,672.19" fill="#ff8512"/>
<polygon points="363.86,667.89 356.26,663.49 356.26,672.29" fill="#ff8512"/>
<polygon points="367.39,667.99 359.79,663.59 359.79,672.39" fill="#ff8512"/>
<polygon points="370.78,668.09 363.18,663.69 363.18,672.49" fill="#ff8512"/>
<polygon points="374.05,668.19 366.45,663.79 366.45,672.59" fill="#ff8512"/>
<polygon points="377.20,668.29 369.60,663.89 369.60,672.69" fill="#ff8512"/>
<polygon points="380.23,668.38 372.63,663.98 372.63,672.78" fill="#ff8512"/>
<polygon points="383.17,668.47 375.57,664.07 375.57,672.87" fill="#ff8512"/>
<polygon points="386.00,668.56 378.40,664.16 378.40,672.96" fill="#ff8512"/>
<polygon points="388.75,668.65 381.15,664.25 381.15,673.05" fill="#ff8512"/>
<polygon points="391.41,668.74 383.81,664.34 383.81,673.14" fill="#ff8512"/>
<polygon points="394.00,668.82 386.40,664.42 386.40,673.22" fill="#ff8512"/>
<polygon points="396.51,668.90 388.91,664.50 388.91,673.30" fill="#ff8512"/>
<polygon points="398.94,668.98 391.34,664.58 391.34,673.38" fill="#ff8512"/>
<polygon points="401.31,669.06 393.71,664.66 393.71,673.46" fill="#ff8512"/>
<polygon points="403.62,669.14 396.02,664.74 396.02,673.54" fill="#ff8512"/>
<polygon points="405.87,669.21 398.27,664.81 398.27,673.61" fill="#ff8512"/>
<polygon points="408.06,669.28 400.46,664.88 400.46,673.68" fill="#ff8512"/>
<polygon points="410.20,669.36 402.60,664.96 402.60,673.76" fill="#ff8512"/>
<polygon points="412.28,669.43 404.68,665.03 404.68,673.83" fill="#ff8512"/>
<polygon points="414.32,669.49 406.72,665.09 406.72,673.89" fill="#ff8512"/>
<polygon points="416.31,669.56 408.71,665.16 408.71,673.96" fill="#ff8512"/>
<polygon points="418.25,669.63 410.65,665.23 410.65,674.03" fill="#ff8512"/>
<polygon points="420.15,669.69 412.55,665.29 412.55,674.09" fill="#ff8512"/>
<polygon points="422.02,669.75 414.42,665.35 414.42,674.15" fill="#ff8512"/>
<polygon points="423.84,669.82 416.24,665.42 416.24,674.22" fill="#ff8512"/>
<polygon points="425.62,669.88 418.02,665.48 418.02,674.28" fill="#ff8512"/>
<polygon points="427.37,669.94 419.77,665.54 419.77,674.34" fill="#ff8512"/>
<polygon points="429.08,669.99 421.48,665.59 421.48,674.39" fill="#ff8512"/>
<polygon points="430.76,670.05 423.16,665.65 423.16,674.45" fill="#ff8512"/>
<polygon points="432.41,670.11 424.81,665.71 424.81,674.51" fill="#ff8512"/>
<polygon points="434.03,670.16 426.43,665.76 426.43,674.56" fill="#ff8512"/>
<polygon points="435.62,670.21 428.02,665.81 428.02,674.61" fill="#ff8512"/>
<polygon points="437.18,670.27 429.58,665.87 429.58,674.67" fill="#ff8512"/>
<polygon points="438.71,670.32 431.11,665.92 431.11,674.72" fill="#ff8512"/>
<polygon points="440.21,670.37 432.61,665.97 432.61,674.77" fill="#ff8512"/>
<polygon points="441.69,670.42 434.09,666.02 434.09,674.82" fill="#ff8512"/>
<polygon points="443.15,670.47 435.55,666.07 435.55,674.87" fill="#ff8512"/>
<polygon points="444.58,670.52 436.98,666.12 436.98,674.92" fill="#ff8512"/>
<polygon points="445.98,670.56 438.38,666.16 438.38,674.96" fill="#ff8512"/>
<polygon points="447.37,670.61 439.77,666.21 439.77,675.01" fill="#ff8512"/>
<polygon points="448.73,670.66 441.13,666.26 441.13,675.06" fill="#ff8512"/>
<polygon points="450.07,670.70 442.47,666.30 442.47,675.10" fill="#ff8512"/>
<polygon points="451.39,670.74 443.79,666.34 443.79,675.14" fill="#ff8512"/>
<polygon points="452.70,670.79 445.10,666.39 445.10,675.19" fill="#ff8512"/>
<polygon points="453.98,670.83 446.38,666.43 446.38,675.23" fill="#ff8512"/>
<polygon points="455.24,670.87 447.64,666.47 447.64,675.27" fill="#ff8512"/>
<polygon points="456.49,670.91 448.89,666.51 448.89,675.31" fill="#ff8512"/>
<polygon points="457.71,670.95 450.11,666.55 450.11,675.35" fill="#ff8512"/>
<polygon points="458.92,670.99 451.32,666.59 451.32,675.39" fill="#ff8512"/>
<polygon points="460.12,671.03 452.52,666.63 452.52,675.43" fill="#ff8512"/>
<polygon points="461.29,671.07 453.69,666.67 453.69,675.47" fill="#ff8512"/>
<polygon points="462.46,671.11 454.86,666.71 454.86,675.51" fill="#ff8512"/>
<polygon points="463.60,671.15 456.00,666.75 456.00,675.55" fill="#ff8512"/>
<polygon points="464.73,671.18 457.13,666.78 457.13,675.58" fill="#ff8512"/>
<polygon points="465.85,671.22 458.25,666.82 458.25,675.62" fill="#ff8512"/>
<polygon points="466.95,671.26 459.35,666.86 459.35,675.66" fill="#ff8512"/>
<polygon points="468.04,671.29 460.44,666.89 460.44,675.69" fill="#ff8512"/>
<polygon points="469.12,671.32 461.52,666.92 461.52,675.72" fill="#ff8512"/>
<polygon points="470.18,671.36 462.58,666.96 462.58,675.76" fill="#ff8512"/>
<polygon points="471.23,671.39 463.63,666.99 463.63,675.79" fill="#ff8512"/>
<polygon points="472.26,671.43 464.66,667.03 464.66,675.83" fill="#ff8512"/>
<polygon points="473.29,671.46 465.69,667.06 465.69,675.86" fill="#ff8512"/>
<polygon points="474.30,671.49 466.70,667.09 466.70,675.89" fill="#ff8512"/>
<polygon points="475.30,671.52 467.70,667.12 467.70,675.92" fill="#ff8512"/>
<polygon points="476.29,671.55 468.69,667.15 468.69,675.95" fill="#ff8512"/>
<polygon points="477.27,671.58 469.67,667.18 469.67,675.98" fill="#ff8512"/>
<polygon points="478.23,671.61 470.63,667.21 470.63,676.01" fill="#ff8512"/>
<polygon points="479.19,671.64 471.59,667.24 471.59,676.04" fill="#ff8512"/>
<polygon points="480.13,671.67 472.53,667.27 472.53,676.07" fill="#ff8512"/>
<polygon points="481.07,671.70 473.47,667.30 473.47,676.10" fill="#ff8512"/>
<polygon points="482.00,671.73 474.40,667.33 474.40,676.13" fill="#ff8512"/>
<polygon points="482.91,671.76 475.31,667.36 475.31,676.16" fill="#ff8512"/>
<polygon points="483.82,671.79 476.22,667.39 476.22,676.19" fill="#ff8512"/>
<polygon points="484.71,671.82 477.11,667.42 477.11,676.22" fill="#ff8512"/>
<polygon points="485.60,671.84 478.00,667.44 478.00,676.24" fill="#ff8512"/>
<polygon points="486.48,671.87 478.88,667.47 478.88,676.27" fill="#ff8512"/>
<polygon points="487.35,671.90 479.75,667.50 479.75,676.30" fill="#ff8512"/>
<polyline points="84.45,580.86 144.43,592.40 179.52,602.53 223.72,617.15 239.50,622.48 252.84,626.93 264.39,630.70 274.58,633.94 283.70,636.76 291.95,639.24 299.48,641.43 306.40,643.39 312.82,645.15 318.79,646.73 324.37,648.17 329.62,649.47 334.56,650.67 339.24,651.77 343.68,652.78 347.90,653.71 351.93,654.57 355.77,655.37 359.46,656.12 362.99,656.81 366.38,657.46 369.65,658.07 372.80,658.64 375.83,659.18 378.77,659.68 381.60,660.16 384.35,660.61 387.01,661.03 389.60,661.44 392.11,661.82 394.54,662.18 396.91,662.53 399.22,662.85 401.47,663.17 403.66,663.47 405.80,663.75 407.88,664.02 409.92,664.28 411.91,664.53 413.85,664.77 415.75,665.00 417.62,665.22 419.44,665.43 421.22,665.64 422.97,665.83 424.68,666.02 426.36,666.20 428.01,666.38 429.63,666.55 431.22,666.71 432.78,666.87 434.31,667.02 435.81,667.17 437.29,667.31 438.75,667.45 440.18,667.58 441.58,667.71 442.97,667.84 444.33,667.96 445.67,668.08 446.99,668.19 448.30,668.30 449.58,668.41 450.84,668.51 452.09,668.62 453.31,668.72 454.52,668.81 455.72,668.91 456.89,669.00 458.06,669.09 459.20,669.17 460.33,669.26 461.45,669.34 462.55,669.42 463.64,669.50 464.72,669.58 465.78,669.65 466.83,669.72 467.86,669.80 468.89,669.87 469.90,669.93 470.90,670.00 471.89,670.06 472.87,670.13 473.83,670.19 474.79,670.25 475.73,670.31 476.67,670.37 477.60,670.43 478.51,670.48 479.42,670.54 480.31,670.59 481.20,670.64 482.08,670.70 482.95,670.75" fill="none" stroke="#1c6ee6" stroke-width="2.5" stroke-linejoin="round" stroke-linecap="round"/>
<polygon points="84.45,576.76 88.35,579.59 86.86,584.18 82.04,584.18 80.55,579.59" fill="#1c6ee6"/>
<polygon points="144.43,588.30 148.33,591.13 146.84,595.72 142.02,595.72 140.53,591.13" fill="#1c6ee6"/>
<polygon points="179.52,598.43 183.42,601.26 181.93,605.84 177.11,605.84 175.62,601.26" fill="#1c6ee6"/>
<polygon points="223.72,613.05 227.62,615.88 226.13,620.47 221.31,620.47 219.82,615.88" fill="#1c6ee6"/>
<polygon points="239.50,618.38 243.40,621.22 241.91,625.80 237.09,625.80 235.60,621.22" fill="#1c6ee6"/>
<polygon points="252.84,622.83 256.74,625.66 255.25,630.25 250.43,630.25 248.94,625.66" fill="#1c6ee6"/>
<polygon points="264.39,626.60 268.29,629.44 266.80,634.02 261.98,634.02 260.49,629.44" fill="#1c6ee6"/>
<polygon points="274.58,629.84 278.48,632.68 276.99,637.26 272.17,637.26 270.68,632.68" fill="#1c6ee6"/>
<polygon points="283.70,632.66 287.60,635.50 286.11,640.08 281.29,640.08 279.80,635.50" fill="#1c6ee6"/>
<polygon points="291.95,635.14 295.85,637.97 294.36,642.56 289.54,642.56 288.05,637.97" fill="#1c6ee6"/>
<polygon points="299.48,637.33 303.38,640.17 301.89,644.75 297.07,644.75 295.58,640.17" fill="#1c6ee6"/>
<polygon points="306.40,639.29 310.30,642.12 308.81,646.71 303.99,646.71 302.50,642.12" fill="#1c6ee6"/>
<polygon points="312.82,641.05 316.72,643.88 315.23,648.46 310.41,648.46 308.92,643.88" fill="#1c6ee6"/>
<polygon points="318.79,642.63 322.69,645.46 321.20,650.05 316.38,650.05 314.89,645.46" fill="#1c6ee6"/>
<polygon points="324.37,644.07 328.27,646.90 326.78,651.48 321.96,651.48 320.47,646.90" fill="#1c6ee6"/>
<polygon points="329.62,645.37 333.52,648.21 332.03,652.79 327.21,652.79 325.72,648.21" fill="#1c6ee6"/>
<polygon points="334.56,646.57 338.46,649.40 336.97,653.99 332.15,653.99 330.66,649.40" fill="#1c6ee6"/>
<polygon points="339.24,647.67 343.14,650.50 341.65,655.08 336.83,655.08 335.34,650.50" fill="#1c6ee6"/>
<polygon points="343.68,648.68 347.58,651.51 346.09,656.09 341.27,656.09 339.78,651.51" fill="#1c6ee6"/>
<polygon points="347.90,649.61 351.80,652.44 350.31,657.02 345.49,657.02 344.00,652.44" fill="#1c6ee6"/>
<polygon points="351.93,650.47 355.83,653.30 354.34,657.89 349.52,657.89 348.03,653.30" fill="#1c6ee6"/>
<polygon points="355.77,651.27 359.67,654.10 358.18,658.69 353.36,658.69 351.87,654.10" fill="#1c6ee6"/>
<polygon points="359.46,652.02 363.36,654.85 361.87,659.43 357.05,659.43 355.56,654.85" fill="#1c6ee6"/>
<polygon points="362.99,652.71 366.89,655.55 365.40,660.13 360.58,660.13 359.09,655.55" fill="#1c6ee6"/>
<polygon points="366.38,653.36 370.28,656.19 368.79,660.78 363.97,660.78 362.48,656.19" fill="#1c6ee6"/>
<polygon points="369.65,653.97 373.55,656.80 372.06,661.39 367.24,661.39 365.75,656.80" fill="#1c6ee6"/>
<polygon points="372.80,654.54 376.70,657.37 375.21,661.96 370.39,661.96 368.90,657.37" fill="#1c6ee6"/>
<polygon points="375.83,655.08 379.73,657.91 378.24,662.49 373.42,662.49 371.93,657.91" fill="#1c6ee6"/>
<polygon points="378.77,655.58 382.67,658.41 381.18,663.00 376.36,663.00 374.87,658.41" fill="#1c6ee6"/>
<polygon points="381.60,656.06 385.50,658.89 384.01,663.47 379.19,663.47 377.70,658.89" fill="#1c6ee6"/>
<polygon points="384.35,656.51 388.25,659.34 386.76,663.92 381.94,663.92 380.45,659.34" fill="#1c6ee6"/>
<polygon points="387.01,656.93 390.91,659.77 389.42,664.35 384.60,664.35 383.11,659.77" fill="#1c6ee6"/>
<polygon points="389.60,657.34 393.50,660.17 392.01,664.75 387.19,664.75 385.70,660.17" fill="#1c6ee6"/>
<polygon points="392.11,657.72 396.00,660.55 394.52,665.14 389.70,665.14 388.21,660.55" fill="#1c6ee6"/>
<polygon points="394.54,658.08 398.44,660.91 396.95,665.50 392.13,665.50 390.64,660.91" fill="#1c6ee6"/>
<polygon points="396.91,658.43 400.81,661.26 399.32,665.84 394.50,665.84 393.01,661.26" fill="#1c6ee6"/>
<polygon points="399.22,658.75 403.12,661.59 401.63,666.17 396.81,666.17 395.32,661.59" fill="#1c6ee6"/>
<polygon points="401.47,659.07 405.37,661.90 403.88,666.48 399.06,666.48 397.57,661.90" fill="#1c6ee6"/>
<polygon points="403.66,659.37 407.56,662.20 406.07,666.78 401.25,666.78 399.76,662.20" fill="#1c6ee6"/>
<polygon points="405.80,659.65 409.70,662.48 408.21,667.07 403.39,667.07 401.90,662.48" fill="#1c6ee6"/>
<polygon points="407.88,659.92 411.78,662.76 410.29,667.34 405.47,667.34 403.98,662.76" fill="#1c6ee6"/>
<polygon points="409.92,660.18 413.82,663.02 412.33,667.60 407.51,667.60 406.02,663.02" fill="#1c6ee6"/>
<polygon points="411.91,660.43 415.81,663.27 414.32,667.85 409.50,667.85 408.01,663.27" fill="#1c6ee6"/>
<polygon points="413.85,660.67 417.75,663.51 416.26,668.09 411.44,668.09 409.95,663.51" fill="#1c6ee6"/>
<polygon points="415.75,660.90 419.65,663.74 418.16,668.32 413.34,668.32 411.86,663.74" fill="#1c6ee6"/>
<polygon points="417.62,661.12 421.51,663.96 420.03,668.54 415.21,668.54 413.72,663.96" fill="#1c6ee6"/>
<polygon points="419.44,661.33 423.34,664.17 421.85,668.75 417.03,668.75 415.54,664.17" fill="#1c6ee6"/>
<polygon points="421.22,661.54 425.12,664.37 423.63,668.95 418.81,668.95 417.32,664.37" fill="#1c6ee6"/>
<polygon points="422.97,661.73 426.87,664.57 425.38,669.15 420.56,669.15 419.07,664.57" fill="#1c6ee6"/>
<polygon points="424.68,661.92 428.58,664.76 427.09,669.34 422.27,669.34 420.78,664.76" fill="#1c6ee6"/>
<polygon points="426.36,662.10 430.26,664.94 428.77,669.52 423.95,669.52 422.46,664.94" fill="#1c6ee6"/>
<polygon points="428.01,662.28 431.91,665.11 430.42,669.70 425.60,669.70 424.11,665.11" fill="#1c6ee6"/>
<polygon points="429.63,662.45 433.53,665.28 432.04,669.86 427.22,669.86 425.73,665.28" fill="#1c6ee6"/>
<polygon points="431.22,662.61 435.12,665.44 433.63,670.03 428.81,670.03 427.32,665.44" fill="#1c6ee6"/>
<polygon points="432.78,662.77 436.68,665.60 435.19,670.19 430.37,670.19 428.88,665.60" fill="#1c6ee6"/>
<polygon points="434.31,662.92 438.21,665.75 436.72,670.34 431.90,670.34 430.41,665.75" fill="#1c6ee6"/>
<polygon points="435.81,663.07 439.71,665.90 438.22,670.48 433.40,670.48 431.91,665.90" fill="#1c6ee6"/>
<polygon points="437.29,663.21 441.19,666.04 439.70,670.63 434.88,670.63 433.39,666.04" fill="#1c6ee6"/>
<polygon points="438.75,663.35 442.65,666.18 441.16,670.76 436.34,670.76 434.85,666.18" fill="#1c6ee6"/>
<polygon points="440.18,663.48 444.08,666.31 442.59,670.90 437.77,670.90 436.28,666.31" fill="#1c6ee6"/>
<polygon points="441.58,663.61 445.48,666.44 443.99,671.03 439.17,671.03 437.68,666.44" fill="#1c6ee6"/>
<polygon points="442.97,663.74 446.87,666.57 445.38,671.15 440.56,671.15 439.07,666.57" fill="#1c6ee6"/>
<polygon points="444.33,663.86 448.23,666.69 446.74,671.27 441.92,671.27 440.43,666.69" fill="#1c6ee6"/>
<polygon points="445.67,663.98 449.57,666.81 448.08,671.39 443.26,671.39 441.77,666.81" fill="#1c6ee6"/>
<polygon points="446.99,664.09 450.89,666.92 449.40,671.51 444.58,671.51 443.09,666.92" fill="#1c6ee6"/>
<polygon points="448.30,664.20 452.19,667.03 450.71,671.62 445.89,671.62 444.40,667.03" fill="#1c6ee6"/>
<polygon points="449.58,664.31 453.48,667.14 451.99,671.73 447.17,671.73 445.68,667.14" fill="#1c6ee6"/>
<polygon points="450.84,664.41 454.74,667.25 453.25,671.83 448.43,671.83 446.94,667.25" fill="#1c6ee6"/>
<polygon points="452.09,664.52 455.99,667.35 454.50,671.93 449.68,671.93 448.19,667.35" fill="#1c6ee6"/>
<polygon points="453.31,664.62 457.21,667.45 455.72,672.03 450.90,672.03 449.41,667.45" fill="#1c6ee6"/>
<polygon points="454.52,664.71 458.42,667.54 456.93,672.13 452.11,672.13 450.62,667.54" fill="#1c6ee6"/>
<polygon points="455.72,664.81 459.62,667.64 458.13,672.22 453.31,672.22 451.82,667.64" fill="#1c6ee6"/>
<polygon points="456.89,664.90 460.79,667.73 459.30,672.31 454.48,672.31 453.00,667.73" fill="#1c6ee6"/>
<polygon points="458.06,664.99 461.96,667.82 460.47,672.40 455.65,672.40 454.16,667.82" fill="#1c6ee6"/>
<polygon points="459.20,665.07 463.10,667.91 461.61,672.49 456.79,672.49 455.30,667.91" fill="#1c6ee6"/>
<polygon points="460.33,665.16 464.23,667.99 462.74,672.57 457.92,672.57 456.43,667.99" fill="#1c6ee6"/>
<polygon points="461.45,665.24 465.35,668.07 463.86,672.66 459.04,672.66 457.55,668.07" fill="#1c6ee6"/>
<polygon points="462.55,665.32 466.45,668.15 464.96,672.74 460.14,672.74 458.65,668.15" fill="#1c6ee6"/>
<polygon points="463.64,665.40 467.54,668.23 466.05,672.82 461.23,672.82 459.74,668.23" fill="#1c6ee6"/>
<polygon points="464.72,665.48 468.61,668.31 467.13,672.89 462.31,672.89 460.82,668.31" fill="#1c6ee6"/>
<polygon points="465.78,665.55 469.68,668.38 468.19,672.97 463.37,672.97 461.88,668.38" fill="#1c6ee6"/>
<polygon points="466.83,665.62 470.73,668.46 469.24,673.04 464.42,673.04 462.93,668.46" fill="#1c6ee6"/>
<polygon points="467.86,665.70 471.76,668.53 470.27,673.11 465.45,673.11 463.96,668.53" fill="#1c6ee6"/>
<polygon points="468.89,665.77 472.79,668.60 471.30,673.18 466.48,673.18 464.99,668.60" fill="#1c6ee6"/>
<polygon points="469.90,665.83 473.80,668.67 472.31,673.25 467.49,673.25 466.00,668.67" fill="#1c6ee6"/>
<polygon points="470.90,665.90 474.80,668.73 473.31,673.32 468.49,673.32 467.00,668.73" fill="#1c6ee6"/>
<polygon points="471.89,665.96 475.79,668.80 474.30,673.38 469.48,673.38 467.99,668.80" fill="#1c6ee6"/>
<polygon points="472.87,666.03 476.77,668.86 475.28,673.45 470.46,673.45 468.97,668.86" fill="#1c6ee6"/>
<polygon points="473.83,666.09 477.73,668.92 476.24,673.51 471.42,673.51 469.93,668.92" fill="#1c6ee6"/>
<polygon points="474.79,666.15 478.69,668.98 477.20,673.57 472.38,673.57 470.89,668.98" fill="#1c6ee6"/>
<polygon points="475.73,666.21 479.63,669.04 478.14,673.63 473.32,673.63 471.84,669.04" fill="#1c6ee6"/>
<polygon points="476.67,666.27 480.57,669.10 479.08,673.69 474.26,673.69 472.77,669.10" fill="#1c6ee6"/>
<polygon points="477.60,666.33 481.50,669.16 480.01,673.74 475.19,673.74 473.70,669.16" fill="#1c6ee6"/>
<polygon points="478.51,666.38 482.41,669.22 480.92,673.80 476.10,673.80 474.61,669.22" fill="#1c6ee6"/>
<polygon points="479.42,666.44 483.32,669.27 481.83,673.85 477.01,673.85 475.52,669.27" fill="#1c6ee6"/>
<polygon points="480.31,666.49 484.21,669.32 482.72,673.91 477.90,673.91 476.41,669.32" fill="#1c6ee6"/>
<polygon points="481.20,666.54 485.10,669.38 483.61,673.96 478.79,673.96 477.30,669.38" fill="#1c6ee6"/>
<polygon points="482.08,666.60 485.98,669.43 484.49,674.01 479.67,674.01 478.18,669.43" fill="#1c6ee6"/>
<polygon points="482.95,666.65 486.85,669.48 485.36,674.06 480.54,674.06 479.05,669.48" fill="#1c6ee6"/>
</g>
<rect x="84.45" y="381.3" width="398.85" height="295.90000000000003" fill="none" stroke="#000" stroke-width="2.3" stroke-linejoin="round"/>
<line x1="77.45" y1="675.80" x2="84.45" y2="675.80" stroke="#000" stroke-width="2" />
<text x="73.20" y="682.90" font-family="'Liberation Sans', Arial, sans-serif" font-size="25" font-weight="normal" text-anchor="end" fill="#000" >0</text>
<line x1="77.45" y1="602.10" x2="84.45" y2="602.10" stroke="#000" stroke-width="2" />
<text x="73.20" y="609.20" font-family="'Liberation Sans', Arial, sans-serif" font-size="25" font-weight="normal" text-anchor="end" fill="#000" >40</text>
<line x1="77.45" y1="528.40" x2="84.45" y2="528.40" stroke="#000" stroke-width="2" />
<text x="73.20" y="535.50" font-family="'Liberation Sans', Arial, sans-serif" font-size="25" font-weight="normal" text-anchor="end" fill="#000" >80</text>
<line x1="77.45" y1="454.70" x2="84.45" y2="454.70" stroke="#000" stroke-width="2" />
<text x="73.20" y="461.80" font-family="'Liberation Sans', Arial, sans-serif" font-size="25" font-weight="normal" text-anchor="end" fill="#000" >120</text>
<line x1="77.45" y1="381.00" x2="84.45" y2="381.00" stroke="#000" stroke-width="2" />
<text x="73.20" y="388.10" font-family="'Liberation Sans', Arial, sans-serif" font-size="25" font-weight="normal" text-anchor="end" fill="#000" >160</text>
<line x1="144.43" y1="677.20" x2="144.43" y2="680.70" stroke="#000" stroke-width="2" />
<line x1="179.52" y1="677.20" x2="179.52" y2="680.70" stroke="#000" stroke-width="2" />
<line x1="204.41" y1="677.20" x2="204.41" y2="680.70" stroke="#000" stroke-width="2" />
<line x1="223.72" y1="677.20" x2="223.72" y2="680.70" stroke="#000" stroke-width="2" />
<line x1="239.50" y1="677.20" x2="239.50" y2="680.70" stroke="#000" stroke-width="2" />
<line x1="252.84" y1="677.20" x2="252.84" y2="680.70" stroke="#000" stroke-width="2" />
<line x1="264.39" y1="677.20" x2="264.39" y2="680.70" stroke="#000" stroke-width="2" />
<line x1="274.58" y1="677.20" x2="274.58" y2="680.70" stroke="#000" stroke-width="2" />
<line x1="343.68" y1="677.20" x2="343.68" y2="680.70" stroke="#000" stroke-width="2" />
<line x1="378.77" y1="677.20" x2="378.77" y2="680.70" stroke="#000" stroke-width="2" />
<line x1="403.66" y1="677.20" x2="403.66" y2="680.70" stroke="#000" stroke-width="2" />
<line x1="422.97" y1="677.20" x2="422.97" y2="680.70" stroke="#000" stroke-width="2" />
<line x1="438.75" y1="677.20" x2="438.75" y2="680.70" stroke="#000" stroke-width="2" />
<line x1="452.09" y1="677.20" x2="452.09" y2="680.70" stroke="#000" stroke-width="2" />
<line x1="463.64" y1="677.20" x2="463.64" y2="680.70" stroke="#000" stroke-width="2" />
<line x1="473.83" y1="677.20" x2="473.83" y2="680.70" stroke="#000" stroke-width="2" />
<line x1="84.45" y1="677.20" x2="84.45" y2="683.70" stroke="#000" stroke-width="2" />
<text x="84.75" y="706.80" font-family="'Liberation Sans', Arial, sans-serif" font-size="25" font-weight="normal" text-anchor="middle" fill="#000" >1</text>
<line x1="283.70" y1="677.20" x2="283.70" y2="683.70" stroke="#000" stroke-width="2" />
<text x="284.00" y="706.80" font-family="'Liberation Sans', Arial, sans-serif" font-size="25" font-weight="normal" text-anchor="middle" fill="#000" >10</text>
<line x1="482.95" y1="677.20" x2="482.95" y2="683.70" stroke="#000" stroke-width="2" />
<text x="483.25" y="706.80" font-family="'Liberation Sans', Arial, sans-serif" font-size="25" font-weight="normal" text-anchor="middle" fill="#000" >100</text>
<text x="0" y="0" transform="translate(20.2,661.3) rotate(-90)" font-family="'Liberation Sans', Arial, sans-serif" font-size="25.5" textLength="256" lengthAdjust="spacingAndGlyphs">3 dB Bandwidth(MHz)</text>
<text y="737.4" font-family="'Liberation Sans', Arial, sans-serif" font-size="29.5"><tspan x="257.4" font-size="32">τ</tspan><tspan x="273.8" font-weight="bold" font-size="21">r</tspan></text>
<text x="282" y="737.4" font-family="'Liberation Sans', Arial, sans-serif" font-size="29.5" textLength="54.5" lengthAdjust="spacingAndGlyphs">(ns)</text>
<line x1="325.50" y1="410.70" x2="365.60" y2="410.70" stroke="#2bbcc6" stroke-width="2.8" />
<rect x="342.05" y="407.44" width="6.51" height="6.51" fill="#2bbcc6"/>
<text transform="translate(366.77,420.75) scale(1.020,1)" font-family="'Liberation Sans', Arial, sans-serif" font-weight="normal" font-style="italic" font-size="30.19" fill="#000">τ</text>
<text transform="translate(381.70,420.75) scale(1.049,1)" font-family="'Liberation Sans', Arial, sans-serif" font-weight="normal" font-style="normal" font-size="15.51" fill="#333">R</text>
<text x="394.00" y="420.75" font-family="'Liberation Sans', Arial, sans-serif" font-size="25.3" font-weight="normal" text-anchor="start" fill="#000" >=1ns</text>
<line x1="324.80" y1="434.10" x2="338.30" y2="434.10" stroke="#1c6ee6" stroke-width="2.8" />
<line x1="351.10" y1="434.10" x2="364.60" y2="434.10" stroke="#1c6ee6" stroke-width="2.8" />
<polygon points="345.30,429.80 349.39,432.77 347.83,437.58 342.77,437.58 341.21,432.77" fill="#1c6ee6"/>
<text transform="translate(368.57,440.70) scale(1.020,1)" font-family="'Liberation Sans', Arial, sans-serif" font-weight="normal" font-style="italic" font-size="30.19" fill="#000">τ</text>
<text transform="translate(383.20,440.70) scale(1.049,1)" font-family="'Liberation Sans', Arial, sans-serif" font-weight="normal" font-style="normal" font-size="15.51" fill="#333">R</text>
<text x="395.80" y="440.70" font-family="'Liberation Sans', Arial, sans-serif" font-size="25.3" font-weight="normal" text-anchor="start" fill="#000" >=5ns</text>
<line x1="325.50" y1="452.60" x2="365.60" y2="452.60" stroke="#b23cc8" stroke-width="2.8" />
<polygon points="345.30,447.77 349.08,452.60 345.30,457.43 341.52,452.60" fill="#b23cc8"/>
<text transform="translate(368.17,463.70) scale(1.020,1)" font-family="'Liberation Sans', Arial, sans-serif" font-weight="normal" font-style="italic" font-size="30.19" fill="#000">τ</text>
<text transform="translate(382.40,463.70) scale(1.049,1)" font-family="'Liberation Sans', Arial, sans-serif" font-weight="normal" font-style="normal" font-size="15.51" fill="#333">R</text>
<text x="395.70" y="463.70" font-family="'Liberation Sans', Arial, sans-serif" font-size="25.3" font-weight="normal" text-anchor="start" fill="#000" >=10ns</text>
<line x1="325.50" y1="473.60" x2="365.60" y2="473.60" stroke="#ff8512" stroke-width="2.8" />
<polygon points="349.92,473.60 341.94,468.98 341.94,478.22" fill="#ff8512"/>
<text transform="translate(370.95,486.20) scale(1.057,1)" font-family="'Liberation Sans', Arial, sans-serif" font-weight="normal" font-style="italic" font-size="24.91" fill="#000">τ</text>
<text transform="translate(383.50,486.20) scale(1.049,1)" font-family="'Liberation Sans', Arial, sans-serif" font-weight="normal" font-style="normal" font-size="15.51" fill="#333">R</text>
<text x="396.20" y="486.20" font-family="'Liberation Sans', Arial, sans-serif" font-size="25.3" font-weight="normal" text-anchor="start" fill="#000" >=50ns</text>
<polyline points="607.20,408.60 640.70,408.60 674.20,408.60 707.70,408.60 741.20,408.60 774.70,408.60 808.20,408.60 841.70,408.60 875.20,408.60 908.70,408.60 942.20,407.10" fill="none" stroke="#2bbcc6" stroke-width="2.5" stroke-linejoin="round" stroke-linecap="round"/>
<rect x="604.10" y="405.50" width="6.20" height="6.20" fill="#2bbcc6"/>
<rect x="637.60" y="405.50" width="6.20" height="6.20" fill="#2bbcc6"/>
<rect x="671.10" y="405.50" width="6.20" height="6.20" fill="#2bbcc6"/>
<rect x="704.60" y="405.50" width="6.20" height="6.20" fill="#2bbcc6"/>
<rect x="738.10" y="405.50" width="6.20" height="6.20" fill="#2bbcc6"/>
<rect x="771.60" y="405.50" width="6.20" height="6.20" fill="#2bbcc6"/>
<rect x="805.10" y="405.50" width="6.20" height="6.20" fill="#2bbcc6"/>
<rect x="838.60" y="405.50" width="6.20" height="6.20" fill="#2bbcc6"/>
<rect x="872.10" y="405.50" width="6.20" height="6.20" fill="#2bbcc6"/>
<rect x="905.60" y="405.50" width="6.20" height="6.20" fill="#2bbcc6"/>
<rect x="939.10" y="404.00" width="6.20" height="6.20" fill="#2bbcc6"/>
<polyline points="607.20,435.30 640.70,433.30 674.20,430.90 707.70,427.80 741.20,425.20 774.70,422.20 808.20,419.60 841.70,416.10 875.20,413.50 908.70,410.70 942.20,407.30" fill="none" stroke="#1c6ee6" stroke-width="2.5" stroke-linejoin="round" stroke-linecap="round"/>
<circle cx="607.20" cy="435.30" r="3.30" fill="#1c6ee6"/>
<circle cx="640.70" cy="433.30" r="3.30" fill="#1c6ee6"/>
<circle cx="674.20" cy="430.90" r="3.30" fill="#1c6ee6"/>
<circle cx="707.70" cy="427.80" r="3.30" fill="#1c6ee6"/>
<circle cx="741.20" cy="425.20" r="3.30" fill="#1c6ee6"/>
<circle cx="774.70" cy="422.20" r="3.30" fill="#1c6ee6"/>
<circle cx="808.20" cy="419.60" r="3.30" fill="#1c6ee6"/>
<circle cx="841.70" cy="416.10" r="3.30" fill="#1c6ee6"/>
<circle cx="875.20" cy="413.50" r="3.30" fill="#1c6ee6"/>
<circle cx="908.70" cy="410.70" r="3.30" fill="#1c6ee6"/>
<circle cx="942.20" cy="407.30" r="3.30" fill="#1c6ee6"/>
<polyline points="607.20,483.00 640.70,477.20 674.20,471.10 707.70,464.50 741.20,457.80 774.70,451.40 808.20,443.90 841.70,436.30 875.20,426.80 908.70,417.60 942.20,407.10" fill="none" stroke="#b23cc8" stroke-width="2.5" stroke-linejoin="round" stroke-linecap="round"/>
<polygon points="607.20,478.40 610.80,483.00 607.20,487.60 603.60,483.00" fill="#b23cc8"/>
<polygon points="640.70,472.60 644.30,477.20 640.70,481.80 637.10,477.20" fill="#b23cc8"/>
<polygon points="674.20,466.50 677.80,471.10 674.20,475.70 670.60,471.10" fill="#b23cc8"/>
<polygon points="707.70,459.90 711.30,464.50 707.70,469.10 704.10,464.50" fill="#b23cc8"/>
<polygon points="741.20,453.20 744.80,457.80 741.20,462.40 737.60,457.80" fill="#b23cc8"/>
<polygon points="774.70,446.80 778.30,451.40 774.70,456.00 771.10,451.40" fill="#b23cc8"/>
<polygon points="808.20,439.30 811.80,443.90 808.20,448.50 804.60,443.90" fill="#b23cc8"/>
<polygon points="841.70,431.70 845.30,436.30 841.70,440.90 838.10,436.30" fill="#b23cc8"/>
<polygon points="875.20,422.20 878.80,426.80 875.20,431.40 871.60,426.80" fill="#b23cc8"/>
<polygon points="908.70,413.00 912.30,417.60 908.70,422.20 905.10,417.60" fill="#b23cc8"/>
<polygon points="942.20,402.50 945.80,407.10 942.20,411.70 938.60,407.10" fill="#b23cc8"/>
<polyline points="607.20,652.90 640.70,641.80 674.20,628.30 707.70,612.10 741.20,592.30 774.70,569.50 808.20,542.90 841.70,513.80 875.20,481.20 908.70,445.40 942.20,407.10" fill="none" stroke="#ff8512" stroke-width="2.5" stroke-linejoin="round" stroke-linecap="round"/>
<polygon points="607.20,657.50 603.20,649.70 611.20,649.70" fill="#ff8512"/>
<polygon points="640.70,646.40 636.70,638.60 644.70,638.60" fill="#ff8512"/>
<polygon points="674.20,632.90 670.20,625.10 678.20,625.10" fill="#ff8512"/>
<polygon points="707.70,616.70 703.70,608.90 711.70,608.90" fill="#ff8512"/>
<polygon points="741.20,596.90 737.20,589.10 745.20,589.10" fill="#ff8512"/>
<polygon points="774.70,574.10 770.70,566.30 778.70,566.30" fill="#ff8512"/>
<polygon points="808.20,547.50 804.20,539.70 812.20,539.70" fill="#ff8512"/>
<polygon points="841.70,518.40 837.70,510.60 845.70,510.60" fill="#ff8512"/>
<polygon points="875.20,485.80 871.20,478.00 879.20,478.00" fill="#ff8512"/>
<polygon points="908.70,450.00 904.70,442.20 912.70,442.20" fill="#ff8512"/>
<polygon points="942.20,411.70 938.20,403.90 946.20,403.90" fill="#ff8512"/>
<rect x="574" y="385.5" width="402" height="293.9" fill="none" stroke="#000" stroke-width="2.3" stroke-linejoin="round"/>
<line x1="567.00" y1="663.40" x2="574.00" y2="663.40" stroke="#000" stroke-width="2" />
<text x="561.50" y="670.30" font-family="'Liberation Sans', Arial, sans-serif" font-size="25" font-weight="normal" text-anchor="end" fill="#000" >4</text>
<line x1="567.00" y1="598.00" x2="574.00" y2="598.00" stroke="#000" stroke-width="2" />
<text x="561.50" y="604.90" font-family="'Liberation Sans', Arial, sans-serif" font-size="25" font-weight="normal" text-anchor="end" fill="#000" >6</text>
<line x1="567.00" y1="532.60" x2="574.00" y2="532.60" stroke="#000" stroke-width="2" />
<text x="561.50" y="539.50" font-family="'Liberation Sans', Arial, sans-serif" font-size="25" font-weight="normal" text-anchor="end" fill="#000" >8</text>
<line x1="567.00" y1="467.20" x2="574.00" y2="467.20" stroke="#000" stroke-width="2" />
<text x="561.50" y="474.10" font-family="'Liberation Sans', Arial, sans-serif" font-size="25" font-weight="normal" text-anchor="end" fill="#000" >10</text>
<line x1="567.00" y1="401.80" x2="574.00" y2="401.80" stroke="#000" stroke-width="2" />
<text x="561.50" y="408.70" font-family="'Liberation Sans', Arial, sans-serif" font-size="25" font-weight="normal" text-anchor="end" fill="#000" >12</text>
<line x1="570.00" y1="630.70" x2="574.00" y2="630.70" stroke="#000" stroke-width="2" />
<line x1="570.00" y1="565.30" x2="574.00" y2="565.30" stroke="#000" stroke-width="2" />
<line x1="570.00" y1="499.90" x2="574.00" y2="499.90" stroke="#000" stroke-width="2" />
<line x1="570.00" y1="434.50" x2="574.00" y2="434.50" stroke="#000" stroke-width="2" />
<line x1="573.70" y1="679.40" x2="573.70" y2="683.40" stroke="#000" stroke-width="2" />
<line x1="607.20" y1="679.40" x2="607.20" y2="685.90" stroke="#000" stroke-width="2" />
<text x="606.00" y="708.60" font-family="'Liberation Sans', Arial, sans-serif" font-size="25" font-weight="normal" text-anchor="middle" fill="#000" >0.0</text>
<line x1="640.70" y1="679.40" x2="640.70" y2="683.40" stroke="#000" stroke-width="2" />
<line x1="674.20" y1="679.40" x2="674.20" y2="685.90" stroke="#000" stroke-width="2" />
<text x="673.00" y="708.60" font-family="'Liberation Sans', Arial, sans-serif" font-size="25" font-weight="normal" text-anchor="middle" fill="#000" >0.2</text>
<line x1="707.70" y1="679.40" x2="707.70" y2="683.40" stroke="#000" stroke-width="2" />
<line x1="741.20" y1="679.40" x2="741.20" y2="685.90" stroke="#000" stroke-width="2" />
<text x="740.00" y="708.60" font-family="'Liberation Sans', Arial, sans-serif" font-size="25" font-weight="normal" text-anchor="middle" fill="#000" >0.4</text>
<line x1="774.70" y1="679.40" x2="774.70" y2="683.40" stroke="#000" stroke-width="2" />
<line x1="808.20" y1="679.40" x2="808.20" y2="685.90" stroke="#000" stroke-width="2" />
<text x="807.00" y="708.60" font-family="'Liberation Sans', Arial, sans-serif" font-size="25" font-weight="normal" text-anchor="middle" fill="#000" >0.6</text>
<line x1="841.70" y1="679.40" x2="841.70" y2="683.40" stroke="#000" stroke-width="2" />
<line x1="875.20" y1="679.40" x2="875.20" y2="685.90" stroke="#000" stroke-width="2" />
<text x="874.00" y="708.60" font-family="'Liberation Sans', Arial, sans-serif" font-size="25" font-weight="normal" text-anchor="middle" fill="#000" >0.8</text>
<line x1="908.70" y1="679.40" x2="908.70" y2="683.40" stroke="#000" stroke-width="2" />
<line x1="942.20" y1="679.40" x2="942.20" y2="685.90" stroke="#000" stroke-width="2" />
<text x="941.00" y="708.60" font-family="'Liberation Sans', Arial, sans-serif" font-size="25" font-weight="normal" text-anchor="middle" fill="#000" >1.0</text>
<line x1="975.70" y1="679.40" x2="975.70" y2="683.40" stroke="#000" stroke-width="2" />
<text x="0" y="0" transform="translate(527.6,660.8) rotate(-90)" font-family="'Liberation Sans', Arial, sans-serif" font-size="25.5" textLength="247" lengthAdjust="spacingAndGlyphs">3 dB Bandwidth(MHz)</text>
<text transform="translate(717.70,734.50) scale(1.049,1)" font-family="'Liberation Serif', 'Times New Roman', serif" font-weight="normal" font-style="normal" font-size="28.46" fill="#000" stroke="#000" stroke-width="0.5">Φ</text>
<text transform="translate(738.98,734.50) scale(1.004,1)" font-family="'Liberation Serif', 'Times New Roman', serif" font-weight="bold" font-style="normal" font-size="16.15" fill="#000">B0</text>
<text transform="translate(758.70,734.50) scale(0.955,1)" font-family="'Liberation Serif', 'Times New Roman', serif" font-weight="normal" font-style="normal" font-size="26.92" fill="#000">/</text>
<text transform="translate(767.05,734.50) scale(1.055,1)" font-family="'Liberation Serif', 'Times New Roman', serif" font-weight="normal" font-style="normal" font-size="24.78" fill="#000">(</text>
<text transform="translate(775.31,734.50) scale(1.038,1)" font-family="'Liberation Serif', 'Times New Roman', serif" font-weight="normal" font-style="normal" font-size="28.46" fill="#000" stroke="#000" stroke-width="0.5">Φ</text>
<text transform="translate(797.35,734.50) scale(1.076,1)" font-family="'Liberation Serif', 'Times New Roman', serif" font-weight="bold" font-style="normal" font-size="16.15" fill="#000">B0</text>
<text transform="translate(817.52,734.50) scale(1.229,1)" font-family="'Liberation Serif', 'Times New Roman', serif" font-weight="normal" font-style="normal" font-size="22.50" fill="#000">+</text>
<text transform="translate(833.34,734.50) scale(1.012,1)" font-family="'Liberation Serif', 'Times New Roman', serif" font-weight="normal" font-style="normal" font-size="28.46" fill="#000" stroke="#000" stroke-width="0.5">Φ</text>
<text transform="translate(853.63,734.50) scale(1.100,1)" font-family="'Liberation Serif', 'Times New Roman', serif" font-weight="bold" font-style="normal" font-size="16.92" fill="#000">Y0</text>
<text transform="translate(875.77,734.50) scale(0.955,1)" font-family="'Liberation Serif', 'Times New Roman', serif" font-weight="normal" font-style="normal" font-size="25.36" fill="#000">)</text>
<line x1="818.00" y1="582.40" x2="857.60" y2="582.40" stroke="#2bbcc6" stroke-width="2.8" />
<rect x="834.70" y="579.30" width="6.20" height="6.20" fill="#2bbcc6"/>
<text transform="translate(861.57,587.25) scale(1.064,1)" font-family="'Liberation Sans', Arial, sans-serif" font-weight="normal" font-style="italic" font-size="27.83" fill="#000">τ</text>
<text transform="translate(875.61,587.25) scale(1.061,1)" font-family="'Liberation Sans', Arial, sans-serif" font-weight="normal" font-style="normal" font-size="16.38" fill="#222">R</text>
<text x="888.80" y="587.25" font-family="'Liberation Sans', Arial, sans-serif" font-size="25" font-weight="normal" text-anchor="start" fill="#000" >=1ns</text>
<line x1="818.00" y1="602.60" x2="857.60" y2="602.60" stroke="#1c6ee6" stroke-width="2.8" />
<circle cx="837.80" cy="602.60" r="3.30" fill="#1c6ee6"/>
<text transform="translate(861.57,607.50) scale(1.064,1)" font-family="'Liberation Sans', Arial, sans-serif" font-weight="normal" font-style="italic" font-size="27.83" fill="#000">τ</text>
<text transform="translate(875.61,607.50) scale(1.061,1)" font-family="'Liberation Sans', Arial, sans-serif" font-weight="normal" font-style="normal" font-size="16.38" fill="#222">R</text>
<text x="888.80" y="607.50" font-family="'Liberation Sans', Arial, sans-serif" font-size="25" font-weight="normal" text-anchor="start" fill="#000" >=5ns</text>
<line x1="818.00" y1="622.90" x2="857.60" y2="622.90" stroke="#b23cc8" stroke-width="2.8" />
<polygon points="837.80,618.30 841.40,622.90 837.80,627.50 834.20,622.90" fill="#b23cc8"/>
<text transform="translate(861.57,631.50) scale(1.064,1)" font-family="'Liberation Sans', Arial, sans-serif" font-weight="normal" font-style="italic" font-size="27.83" fill="#000">τ</text>
<text transform="translate(875.61,631.50) scale(1.061,1)" font-family="'Liberation Sans', Arial, sans-serif" font-weight="normal" font-style="normal" font-size="16.38" fill="#222">R</text>
<text x="888.80" y="631.50" font-family="'Liberation Sans', Arial, sans-serif" font-size="25" font-weight="normal" text-anchor="start" fill="#000" >=10ns</text>
<line x1="818.00" y1="643.50" x2="857.60" y2="643.50" stroke="#ff8512" stroke-width="2.8" />
<polygon points="837.80,648.10 833.80,640.30 841.80,640.30" fill="#ff8512"/>
<text transform="translate(861.57,653.00) scale(1.064,1)" font-family="'Liberation Sans', Arial, sans-serif" font-weight="normal" font-style="italic" font-size="27.83" fill="#000">τ</text>
<text transform="translate(875.61,653.00) scale(1.061,1)" font-family="'Liberation Sans', Arial, sans-serif" font-weight="normal" font-style="normal" font-size="16.38" fill="#222">R</text>
<text x="888.80" y="653.00" font-family="'Liberation Sans', Arial, sans-serif" font-size="25" font-weight="normal" text-anchor="start" fill="#000" >=50ns</text>
<polyline points="125,158.5 78.5,158.5 78.5,273.2 183.7,273.2" fill="none" stroke="#837e7e" stroke-width="5"/>
<polyline points="347,158.5 391.5,158.5 391.5,273.4 289.3,273.4" fill="none" stroke="#837e7e" stroke-width="5"/>
<circle cx="183.7" cy="273.2" r="6.5" fill="#d00000"/>
<circle cx="289.3" cy="273.4" r="6.5" fill="#d00000"/>
<rect x="200.5" y="253.6" width="73.6" height="39.2" rx="6" ry="6" fill="#fff" stroke="#777" stroke-width="2.6"/>
<text x="203.80" y="281.60" font-family="'Liberation Serif', 'Times New Roman', serif" font-size="25" font-weight="bold" text-anchor="start" fill="#000" textLength="66.5" lengthAdjust="spacingAndGlyphs">Power</text>
<rect x="125.3" y="139.3" width="221.7" height="38.5" fill="#8b8b8b" stroke="#6f6f6f" stroke-width="1.2"/>
<text x="182.20" y="166.20" font-family="'Liberation Serif', 'Times New Roman', serif" font-size="25.8" font-weight="bold" text-anchor="start" fill="#000" textLength="104.5" lengthAdjust="spacingAndGlyphs">GaN LED</text>
<rect x="190.2" y="115.6" width="91.8" height="21.6" fill="#2f3ae8" stroke="#16237a" stroke-width="1.8"/>
<path d="M190.3,115.5 L190.3,80 A45.9,28.4 0 0 1 282.1,80 L282.1,115.5" fill="none" stroke="#4a78b0" stroke-width="1.4"/>
<defs><linearGradient id="bag" x1="0" y1="89.4" x2="0" y2="96" gradientUnits="userSpaceOnUse"><stop offset="0" stop-color="#56389f"/><stop offset="1" stop-color="#2a32c0"/></linearGradient></defs>
<polygon points="195.10,113.6 195.10,96.20 191.80,96.20 198.60,89.4 205.40,96.20 202.10,96.20 202.10,113.6" fill="url(#bag)"/>
<polygon points="214.70,113.6 214.70,96.20 211.40,96.20 218.20,89.4 225.00,96.20 221.70,96.20 221.70,113.6" fill="url(#bag)"/>
<polygon points="234.50,113.6 234.50,96.20 231.20,96.20 238.00,89.4 244.80,96.20 241.50,96.20 241.50,113.6" fill="url(#bag)"/>
<polygon points="253.30,113.6 253.30,96.20 250.00,96.20 256.80,89.4 263.60,96.20 260.30,96.20 260.30,113.6" fill="url(#bag)"/>
<polygon points="270.70,113.6 270.70,96.20 267.40,96.20 274.20,89.4 281.00,96.20 277.70,96.20 277.70,113.6" fill="url(#bag)"/>
<defs><filter id="glow" x="-30%" y="-80%" width="160%" height="260%"><feGaussianBlur stdDeviation="2.6"/></filter></defs>
<ellipse cx="236" cy="81.5" rx="49" ry="12" fill="#fbb679" filter="url(#glow)" opacity="1"/>
<path d="M190.6,76.4 L190.6,87.0 A45.4,2.6 0 0 0 281.4,87.0 L281.4,76.4 Z" fill="#f7862c"/>
<ellipse cx="236" cy="76.4" rx="45.4" ry="2.9" fill="#fbc494" stroke="#f69a52" stroke-width="1.1"/>
<polygon points="205.30,78 205.30,66.70 203.30,66.70 207.60,62.2 211.90,66.70 209.90,66.70 209.90,78" fill="#2b4a9c"/>
<polygon points="220.70,78 220.70,66.70 218.70,66.70 223.00,62.2 227.30,66.70 225.30,66.70 225.30,78" fill="#2b4a9c"/>
<polygon points="234.50,78 234.50,66.70 232.50,66.70 236.80,62.2 241.10,66.70 239.10,66.70 239.10,78" fill="#2b4a9c"/>
<polygon points="248.50,78 248.50,66.70 246.50,66.70 250.80,62.2 255.10,66.70 253.10,66.70 253.10,78" fill="#d97a30"/>
<polygon points="264.30,78 264.30,66.70 262.30,66.70 266.60,62.2 270.90,66.70 268.90,66.70 268.90,78" fill="#d97a30"/>
<polygon points="226.3,50.8 226.3,21.4 214.2,21.4 236.7,0.6 259.4,21.4 247.7,21.4 247.7,50.8" fill="#fff" stroke="#3d6b9c" stroke-width="2.1" stroke-linejoin="miter"/>
<line x1="202.00" y1="70.50" x2="166.30" y2="70.50" stroke="#5b9bd5" stroke-width="2.2" />
<polygon points="156.80,70.50 166.80,66.30 166.80,74.70" fill="#5b9bd5"/>
<line x1="270.60" y1="70.50" x2="307.10" y2="70.50" stroke="#5b9bd5" stroke-width="2.2" />
<polygon points="316.60,70.50 306.60,74.70 306.60,66.30" fill="#5b9bd5"/>
<line x1="283.00" y1="102.30" x2="319.70" y2="102.30" stroke="#5b9bd5" stroke-width="2.2" />
<polygon points="329.20,102.30 319.20,106.50 319.20,98.10" fill="#5b9bd5"/>
<line x1="190.00" y1="83.20" x2="170.41" y2="94.62" stroke="#5b9bd5" stroke-width="2.2" />
<polygon points="162.20,99.40 168.73,90.74 172.95,97.99" fill="#5b9bd5"/>
<text transform="translate(263.33,25.00) scale(0.881,1)" font-family="'Liberation Serif', 'Times New Roman', serif" font-weight="bold" font-style="normal" font-size="27.38" fill="#000">Φ</text>
<text transform="translate(284.64,29.00) scale(0.907,1)" font-family="'Liberation Serif', 'Times New Roman', serif" font-weight="bold" font-style="normal" font-size="17.38" fill="#000">W</text>
<text transform="translate(119.42,76.00) scale(0.933,1)" font-family="'Liberation Serif', 'Times New Roman', serif" font-weight="bold" font-style="normal" font-size="26.31" fill="#000">Φ</text>
<text transform="translate(139.87,80.50) scale(1.137,1)" font-family="'Liberation Serif', 'Times New Roman', serif" font-weight="bold" font-style="normal" font-size="14.62" fill="#000">B</text>
<text transform="translate(321.33,77.30) scale(0.974,1)" font-family="'Liberation Serif', 'Times New Roman', serif" font-weight="bold" font-style="normal" font-size="24.77" fill="#000">Φ</text>
<text transform="translate(341.67,82.50) scale(1.000,1)" font-family="'Liberation Serif', 'Times New Roman', serif" font-weight="bold" font-style="normal" font-size="16.62" fill="#000">Y</text>
<text transform="translate(332.64,108.20) scale(1.000,1)" font-family="'Liberation Serif', 'Times New Roman', serif" font-weight="bold" font-style="normal" font-size="24.00" fill="#000">Φ</text>
<text transform="translate(352.67,113.60) scale(1.032,1)" font-family="'Liberation Serif', 'Times New Roman', serif" font-weight="bold" font-style="normal" font-size="16.15" fill="#000">L</text>
<text x="31.20" y="121.80" font-family="'Liberation Serif', 'Times New Roman', serif" font-size="25" font-weight="bold" text-anchor="start" fill="#000" textLength="154" lengthAdjust="spacingAndGlyphs">phosphors film</text>
</svg></body></html>
